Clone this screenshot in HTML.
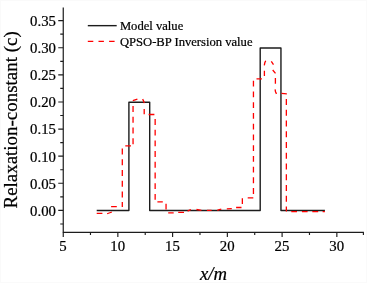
<!DOCTYPE html>
<html><head><meta charset="utf-8"><title>chart</title>
<style>html,body{margin:0;padding:0;background:#fff;overflow:hidden}svg{display:block}text{font-family:"Liberation Serif",serif;fill:#000;stroke:#000;stroke-width:0.22px}</style>
</head><body>
<svg width="367" height="283" viewBox="0 0 367 283">
<rect width="367" height="283" fill="#fff"/>
<rect x="0.5" y="0.5" width="366" height="282" fill="none" stroke="#fafafa" stroke-width="1"/>
<path d="M63.25 7.6V232.4H363.9" fill="none" stroke="#1c1c1c" stroke-width="1.2"/>
<path d="M63.25 210.40h-5M63.25 223.96h-3M63.25 183.29h-5M63.25 196.84h-3M63.25 156.18h-5M63.25 169.74h-3M63.25 129.07h-5M63.25 142.62h-3M63.25 101.96h-5M63.25 115.52h-3M63.25 74.85h-5M63.25 88.41h-3M63.25 47.74h-5M63.25 61.30h-3M63.25 20.63h-5M63.25 34.19h-3M63.25 232.4v4.5M90.47 232.4v2.5M117.85 232.4v4.5M145.22 232.4v2.5M172.60 232.4v4.5M199.97 232.4v2.5M227.35 232.4v4.5M254.72 232.4v2.5M282.10 232.4v4.5M309.47 232.4v2.5M336.85 232.4v4.5M363.40 232.4v2.5" fill="none" stroke="#1c1c1c" stroke-width="1.15"/>
<text x="55.95" y="215.80" text-anchor="end" font-size="14.8">0.00</text>
<text x="55.95" y="188.69" text-anchor="end" font-size="14.8">0.05</text>
<text x="55.95" y="161.58" text-anchor="end" font-size="14.8">0.10</text>
<text x="55.95" y="134.47" text-anchor="end" font-size="14.8">0.15</text>
<text x="55.95" y="107.36" text-anchor="end" font-size="14.8">0.20</text>
<text x="55.95" y="80.25" text-anchor="end" font-size="14.8">0.25</text>
<text x="55.95" y="53.14" text-anchor="end" font-size="14.8">0.30</text>
<text x="55.95" y="26.03" text-anchor="end" font-size="14.8">0.35</text>
<text x="63.00" y="251.4" text-anchor="middle" font-size="14.8">5</text>
<text x="117.75" y="251.4" text-anchor="middle" font-size="14.8">10</text>
<text x="172.50" y="251.4" text-anchor="middle" font-size="14.8">15</text>
<text x="227.25" y="251.4" text-anchor="middle" font-size="14.8">20</text>
<text x="282.00" y="251.4" text-anchor="middle" font-size="14.8">25</text>
<text x="336.75" y="251.4" text-anchor="middle" font-size="14.8">30</text>
<path d="M96.7 210.55 L128.9 210.55 L128.9 102.3 L149.7 102.3 L149.7 210.55 L260.2 210.55 L260.2 48.05 L280.95 48.05 L280.95 210.55 L324.9 210.55" fill="none" stroke="#1c1c1c" stroke-width="1.4" stroke-linejoin="round"/>
<path d="M96.70 213.40 L102.40 213.40M107.10 213.75 L111.90 212.00M111.10 206.60 L116.80 206.60M122.30 207.00 L122.30 202.00M122.30 197.60 L122.30 191.60M122.30 186.85 L122.30 180.85M122.30 176.10 L122.30 170.10M122.30 165.35 L122.30 159.35M122.30 154.60 L122.30 148.60M125.30 145.90 L131.00 145.90M133.05 144.30 L133.05 138.30M133.05 133.50 L133.05 127.50M133.05 122.70 L133.05 116.70M133.05 111.90 L133.05 105.90M132.80 100.70 L137.40 99.20M142.60 99.10 L143.40 100.60 L144.30 103.10M144.20 109.10 L144.20 114.30M148.60 114.50 L154.40 114.50M155.15 119.00 L155.15 124.90M155.15 129.70 L155.15 135.60M155.15 140.40 L155.15 146.30M155.15 151.10 L155.15 157.00M155.15 161.80 L155.15 167.70M155.15 172.50 L155.15 178.40M155.15 183.20 L155.15 189.10M155.15 193.90 L155.15 199.80M157.40 201.80 L162.80 201.80M166.05 203.80 L166.05 209.60M168.20 212.90 L173.70 212.90M178.20 212.40 L184.00 212.30M187.60 211.30 L189.00 210.30 L190.90 209.70M196.50 209.50 L201.40 210.40M206.90 210.30 L211.60 210.40M217.30 210.40 L219.30 209.60 L221.30 209.10M226.80 208.80 L231.80 208.60M236.10 207.50 L241.50 207.50M242.35 203.90 L242.35 198.30M247.70 197.80 L253.30 197.80M253.45 193.90 L253.45 188.10M253.45 183.17 L253.45 177.37M253.45 172.43 L253.45 166.63M253.45 161.70 L253.45 155.90M253.45 150.96 L253.45 145.16M253.45 140.23 L253.45 134.43M253.45 129.50 L253.45 123.70M253.45 118.76 L253.45 112.96M253.45 108.03 L253.45 102.23M253.45 97.29 L253.45 91.49M253.45 86.56 L253.45 80.76M256.50 78.90 L261.90 78.90M264.40 76.00 L264.40 70.70M264.30 65.30 L264.80 62.80 L265.70 60.80M271.30 61.30 L273.50 64.60M272.70 70.00 L275.50 73.30M275.40 78.10 L275.40 83.80M275.10 89.30 L275.50 91.80 L276.50 93.90M281.40 93.40 L286.85 93.80M286.35 99.10 L286.35 105.00M286.35 109.85 L286.35 115.75M286.35 120.60 L286.35 126.50M286.35 131.35 L286.35 137.25M286.35 142.10 L286.35 148.00M286.35 152.85 L286.35 158.75M286.35 163.60 L286.35 169.50M286.35 174.35 L286.35 180.25M286.35 185.10 L286.35 191.00M286.35 195.85 L286.35 201.75M286.35 206.60 L286.35 211.40M291.30 211.60 L297.00 211.60M301.90 211.60 L307.60 211.60M312.30 211.60 L318.20 211.60M322.60 211.60 L324.90 211.60" fill="none" stroke="#f00" stroke-width="1.3"/>
<path d="M87.8 25.65H116.7" stroke="#1c1c1c" stroke-width="1.4"/>
<path d="M87.8 41.35h5.5m5.2 0h5.4m5.2 0h5.5" stroke="#f00" stroke-width="1.3"/>
<text x="119.9" y="29.95" font-size="12.62">Model value</text>
<text x="119.9" y="45.6" font-size="12.62">QPSO-BP Inversion value</text>
<text transform="translate(16.9 208.5) rotate(-90)" font-size="18.95">Relaxation-constant (c)</text>
<text x="200" y="279.7" font-size="18.7" font-style="italic">x/m</text>
</svg>
</body></html>
